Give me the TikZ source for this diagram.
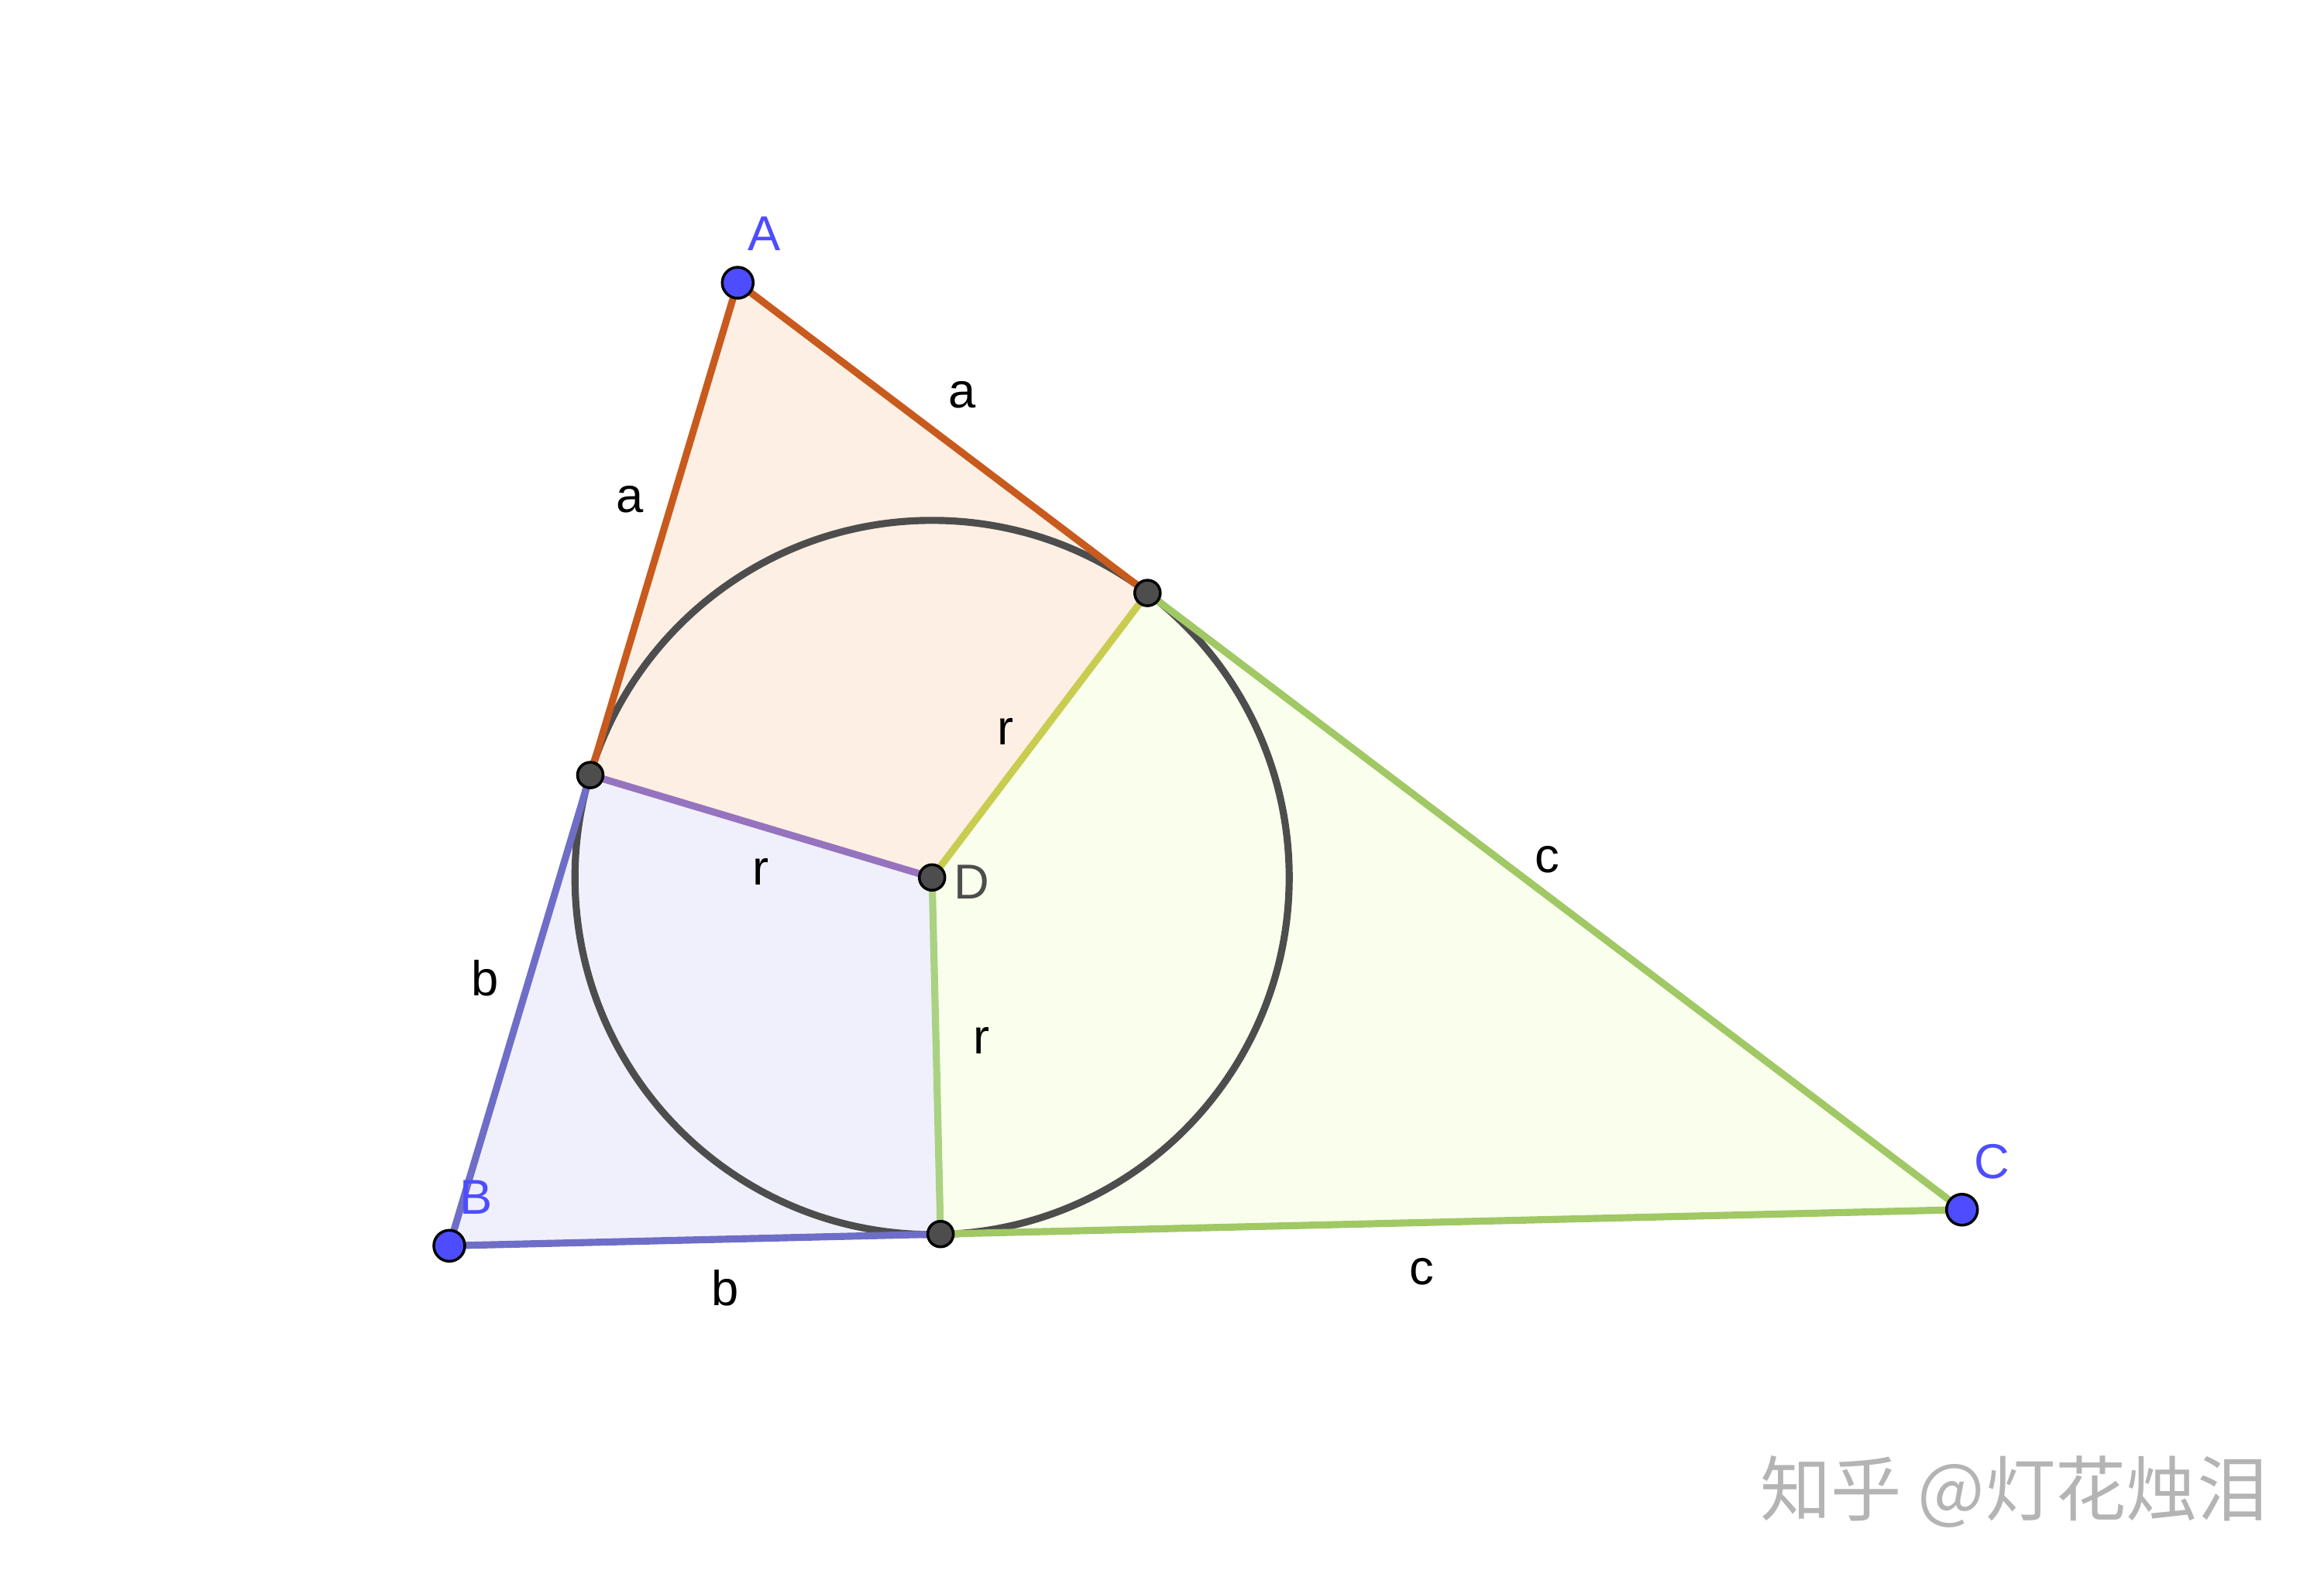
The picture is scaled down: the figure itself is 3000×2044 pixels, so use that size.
\documentclass[tikz,border=0pt]{standalone}
\usepackage{fontspec}
\setmainfont{Liberation Sans}
\newfontfamily\cjk{Noto Sans CJK SC}
\usetikzlibrary{calc}
\definecolor{orEdge}{RGB}{200,90,30}
\definecolor{orFill}{RGB}{253,239,227}
\definecolor{blEdge}{RGB}{110,110,200}
\definecolor{blFill}{RGB}{240,240,252}
\definecolor{puEdge}{RGB}{150,115,190}
\definecolor{ygEdge}{RGB}{200,205,80}
\definecolor{grEdge}{RGB}{160,200,100}
\definecolor{grFill}{RGB}{249,255,236}
\definecolor{lgEdge}{RGB}{170,210,130}
\definecolor{circ}{RGB}{77,77,77}
\definecolor{ptBlue}{RGB}{77,77,255}
\definecolor{ptDark}{RGB}{77,77,77}
\definecolor{wm}{RGB}{180,180,180}
\tikzset{
  edge/.style={line width=2.6pt},
  bigpt/.style={circle,fill=ptBlue,draw=black,line width=1pt,minimum size=0.4cm,inner sep=0pt},
  smallpt/.style={circle,fill=ptDark,draw=black,line width=1pt,minimum size=0.33cm,inner sep=0pt},
  lbl/.style={inner sep=0pt,font=\fontsize{18}{20}\selectfont,text=black},
  ptlbl/.style={inner sep=0pt,font=\fontsize{18}{20}\selectfont,text=ptBlue},
}
\begin{document}
\begin{tikzpicture}[x=0.01cm,y=-0.01cm]
\useasboundingbox (0,0) rectangle (3000,2044);
\coordinate (A) at (952.3,365);
\coordinate (B) at (580,1608.3);
\coordinate (C) at (2532.7,1561.7);
\coordinate (D) at (1203.2,1132.8);
\coordinate (P) at ($(A)!(D)!(B)$);
\coordinate (Q) at ($(A)!(D)!(C)$);
\coordinate (R) at ($(B)!(D)!(C)$);
% fills
\fill[orFill] (A) -- (Q) -- (D) -- (P) -- cycle;
\fill[blFill] (B) -- (P) -- (D) -- (R) -- cycle;
\fill[grFill] (C) -- (R) -- (D) -- (Q) -- cycle;
% circle
\draw[circ,line width=2.6pt] (D) circle (461);
% edges
\draw[edge,orEdge] (A) -- (P);
\draw[edge,orEdge] (A) -- (Q);
\draw[edge,blEdge] (B) -- (P);
\draw[edge,blEdge] (B) -- (R);
\draw[edge,grEdge] (C) -- (Q);
\draw[edge,grEdge] (C) -- (R);
\draw[edge,puEdge] (D) -- (P);
\draw[edge,ygEdge] (D) -- (Q);
\draw[edge,lgEdge] (D) -- (R);
% points
\node[bigpt] (nA) at (A) {};
\node[bigpt] (nB) at (B) {};
\node[bigpt] (nC) at (C) {};
\node[smallpt] (nD) at (D) {};
\node[smallpt] (nP) at (P) {};
\node[smallpt] (nQ) at (Q) {};
\node[smallpt] (nR) at (R) {};
% point labels
\node[ptlbl] (lA) at (987,302) {A};
\node[ptlbl] (lB) at (615,1546) {B};
\node[ptlbl] (lC) at (2571,1500) {C};
\node[ptlbl,text=ptDark] (lD) at (1254,1139) {D};
% segment labels
\node[lbl] (la1) at (1241.7,510) {a};
\node[lbl] (la2) at (813,645) {a};
\node[lbl] (lr1) at (1298,944) {r};
\node[lbl] (lr2) at (982,1125) {r};
\node[lbl] (lr3) at (1267,1343) {r};
\node[lbl] (lb1) at (626,1263) {b};
\node[lbl] (lb2) at (936,1663) {b};
\node[lbl] (lc1) at (1997,1110) {c};
\node[lbl] (lc2) at (1835,1642) {c};
% watermark
\node[inner sep=0pt,text=wm,font=\cjk\fontsize{26}{28}\selectfont] (wm) at (2600,1926) {知乎 @灯花烛泪};
\end{tikzpicture}
\end{document}
